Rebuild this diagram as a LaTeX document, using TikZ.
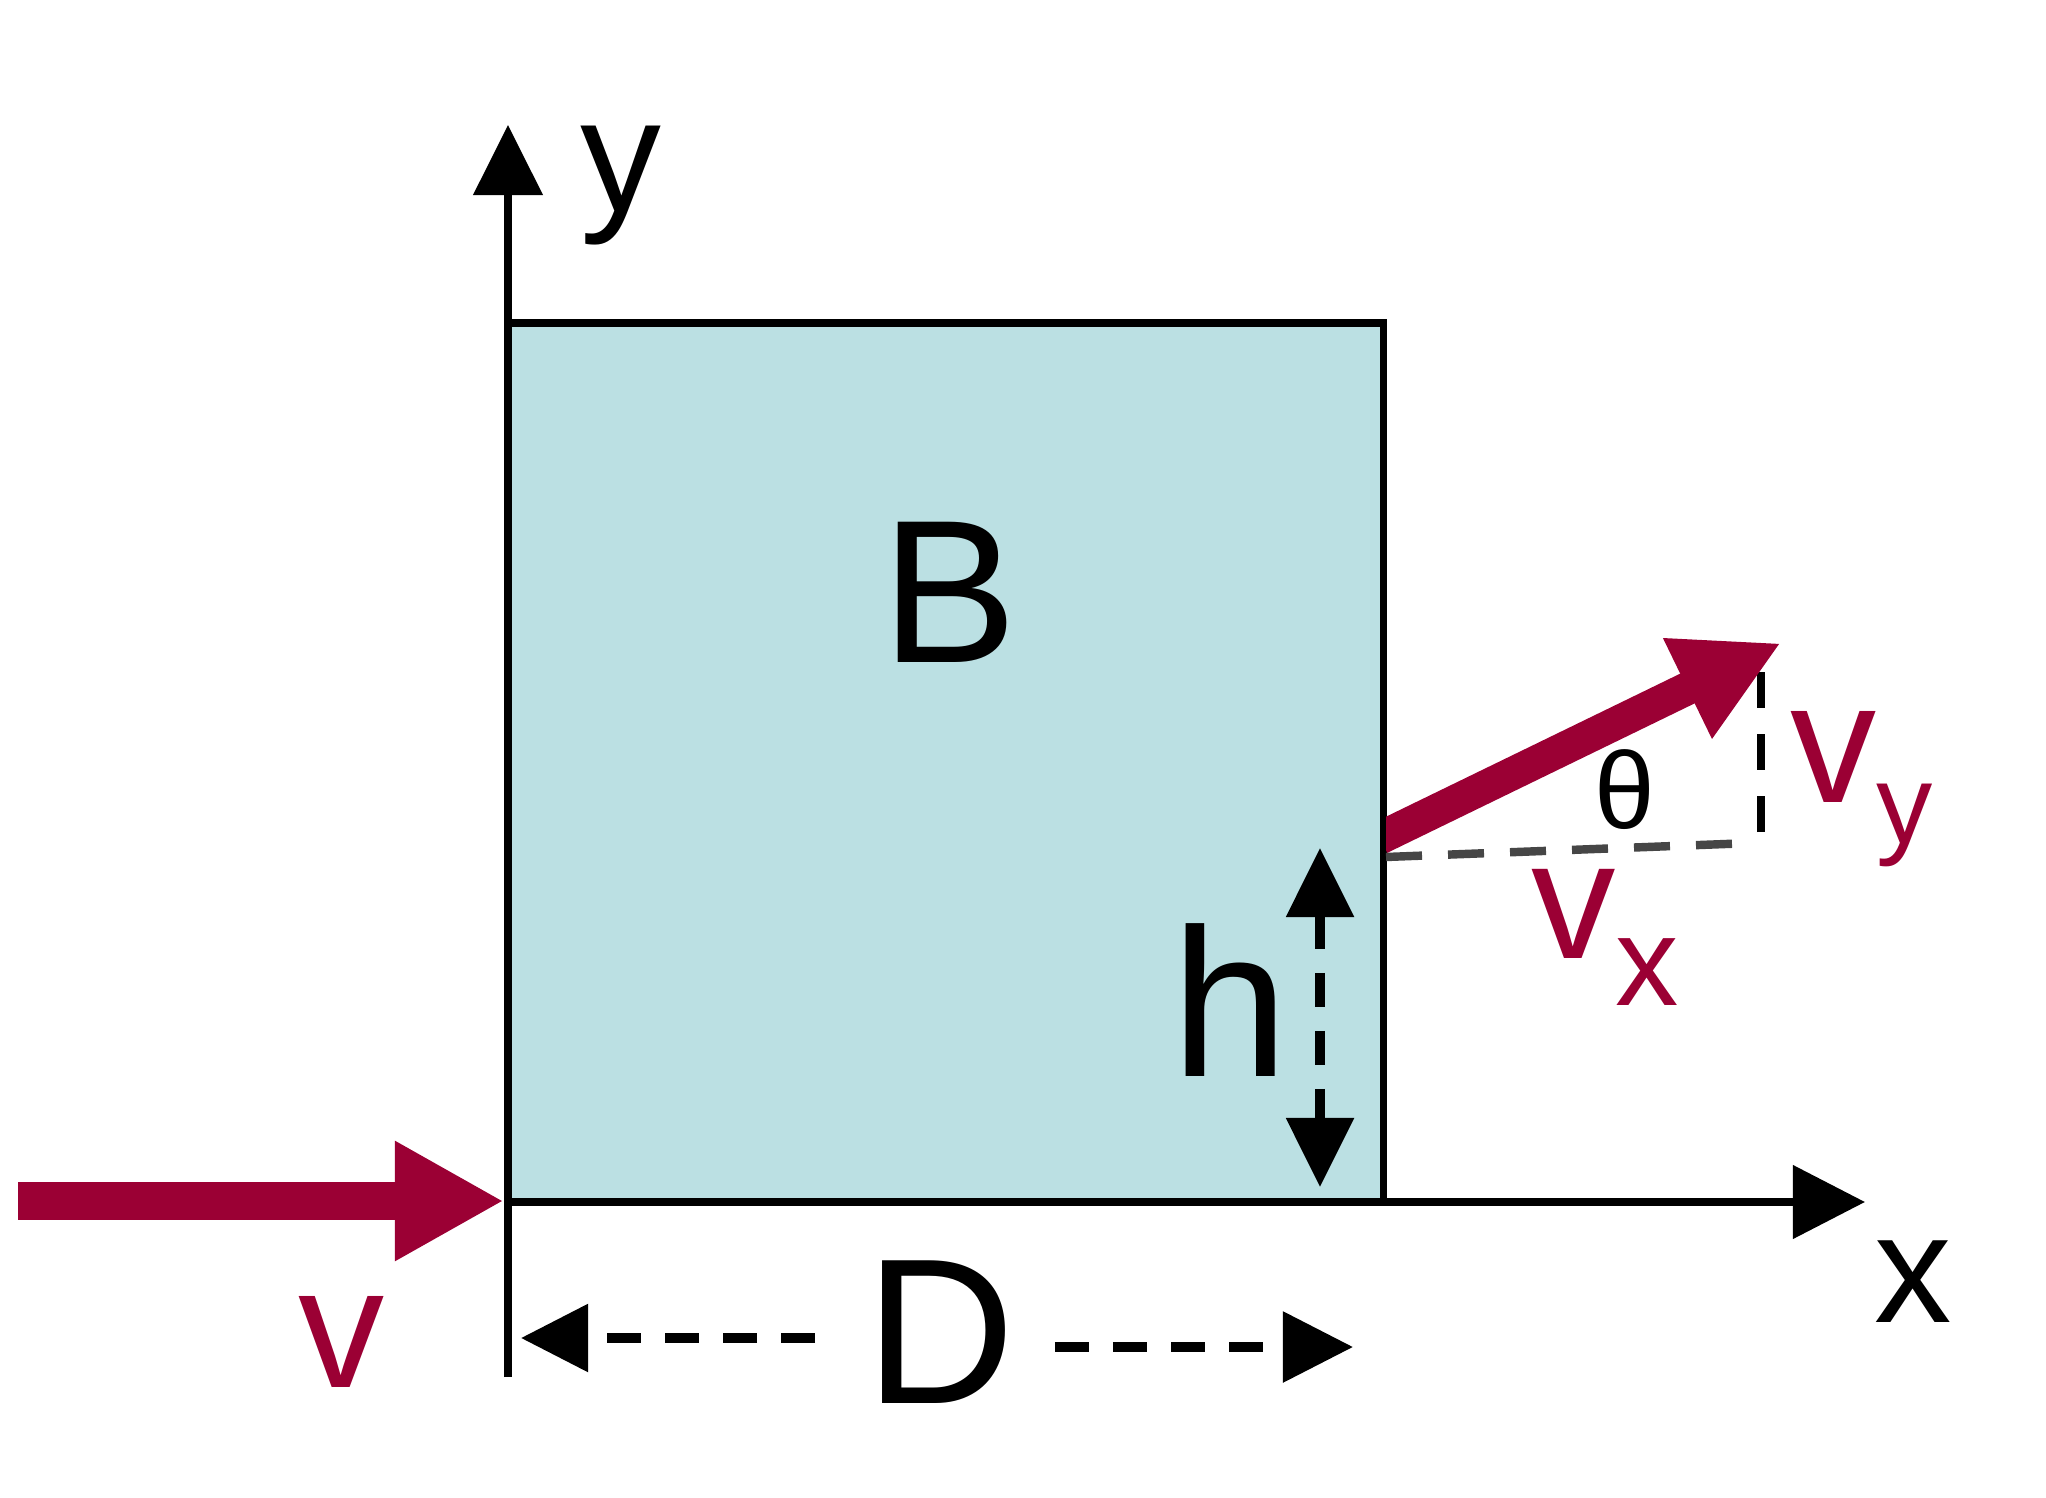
\documentclass[tikz,border=0pt]{standalone}
\usepackage{fontspec}
\setmainfont{Liberation Sans}
\usetikzlibrary{arrows.meta}
\definecolor{vred}{RGB}{155,0,52}
\definecolor{boxfill}{RGB}{187,224,227}
\definecolor{dgray}{RGB}{70,70,70}
\newcommand{\fsz}[1]{\fontsize{#1}{#1}\selectfont}
\tikzset{
  axisline/.style={line width=2.2pt, black},
  bigred/.style={line width=#1, vred},
  dimline/.style={line width=2.6pt, black, dash pattern=on 0.34cm off 0.24cm},
  lbl/.style={inner sep=0pt, outer sep=0pt},
}
\begin{document}
\begin{tikzpicture}[x=0.01cm,y=-0.01cm]
\useasboundingbox (0,0) rectangle (2046,1498);
% coordinates
\coordinate (O) at (508,1202);
\coordinate (ytop) at (508,125);
\coordinate (ybot) at (508,1377);
\coordinate (xtip) at (1865,1202);
\coordinate (vin0) at (18,1201);
\coordinate (vin1) at (504,1201);
\coordinate (vout0) at (1380,838);
\coordinate (vout1) at (1781,643);
\coordinate (hx0) at (1386,857);
\coordinate (hx1) at (1752,843);
\coordinate (hy0) at (1761,832);
\coordinate (hy1) at (1761,650);
\coordinate (htop) at (1320,848);
\coordinate (hbot) at (1320,1187);
\coordinate (Dl) at (521,1338);
\coordinate (Dr) at (1353,1347);
% box
\draw[fill=boxfill, line width=2pt] (508,323) rectangle (1383,1202);
% axes
\draw[axisline, -{Triangle[length=0.70cm,width=0.68cm]}] (ybot) -- (ytop);
\draw[axisline, -{Triangle[length=0.72cm,width=0.72cm]}] (O) -- (xtip);
% component dashed lines
\draw[line width=2.4pt, dgray, dash pattern=on 0.36cm off 0.26cm] (hx0) -- (hx1);
\draw[line width=2.2pt, black, dash pattern=on 0.36cm off 0.26cm] (hy0) -- (hy1);
% incoming arrow
\draw[bigred=11pt, -{Triangle[length=1.09cm,width=1.12cm]}] (vin0) -- (vin1);
% outgoing arrow, tail cut at the box edge
\begin{scope}
\clip (1386,0) rectangle (2046,1498);
\draw[bigred=9.4pt, -{Triangle[length=1.04cm,width=1.04cm]}] (vout0) -- (vout1);
\end{scope}
% h dimension
\draw[dimline, {Triangle[length=0.69cm,width=0.66cm]}-{Triangle[length=0.69cm,width=0.66cm]}] (htop) -- (hbot);
% labels
\node[lbl] (ylab) at (621,186) {\fsz{46}y};
\node[lbl] (xlab) at (1913,1282) {\fsz{44}x};
\node[lbl] (Blab) at (950,592) {\fsz{58}B};
\node[lbl] (hlab) at (1230,1000) {\fsz{60}h};
\node[lbl] (Dlab) at (940,1332) {\fsz{59}D};
\node[lbl, text=vred] (vlab) at (342,1342) {\fsz{49}v};
\node[lbl] (thlab) at (1625,790) {\fsz{31}θ};
\node[lbl, text=vred, anchor=base west] (vylab) at (1790,803) {\fsz{49}v\raisebox{-11.4pt}{\fsz{32}y}};
\node[lbl, text=vred, anchor=base west] (vxlab) at (1531,958) {\fsz{48}v\raisebox{-13.4pt}{\fsz{36}x}};
% D dimension
\draw[dimline, -{Triangle[length=0.67cm,width=0.66cm]}] ([xshift=-0.5cm]Dlab.west |- Dl) -- (Dl);
\draw[dimline, -{Triangle[length=0.70cm,width=0.69cm]}] ([xshift=0.4cm]Dlab.east |- Dr) -- (Dr);
\end{tikzpicture}
\end{document}
